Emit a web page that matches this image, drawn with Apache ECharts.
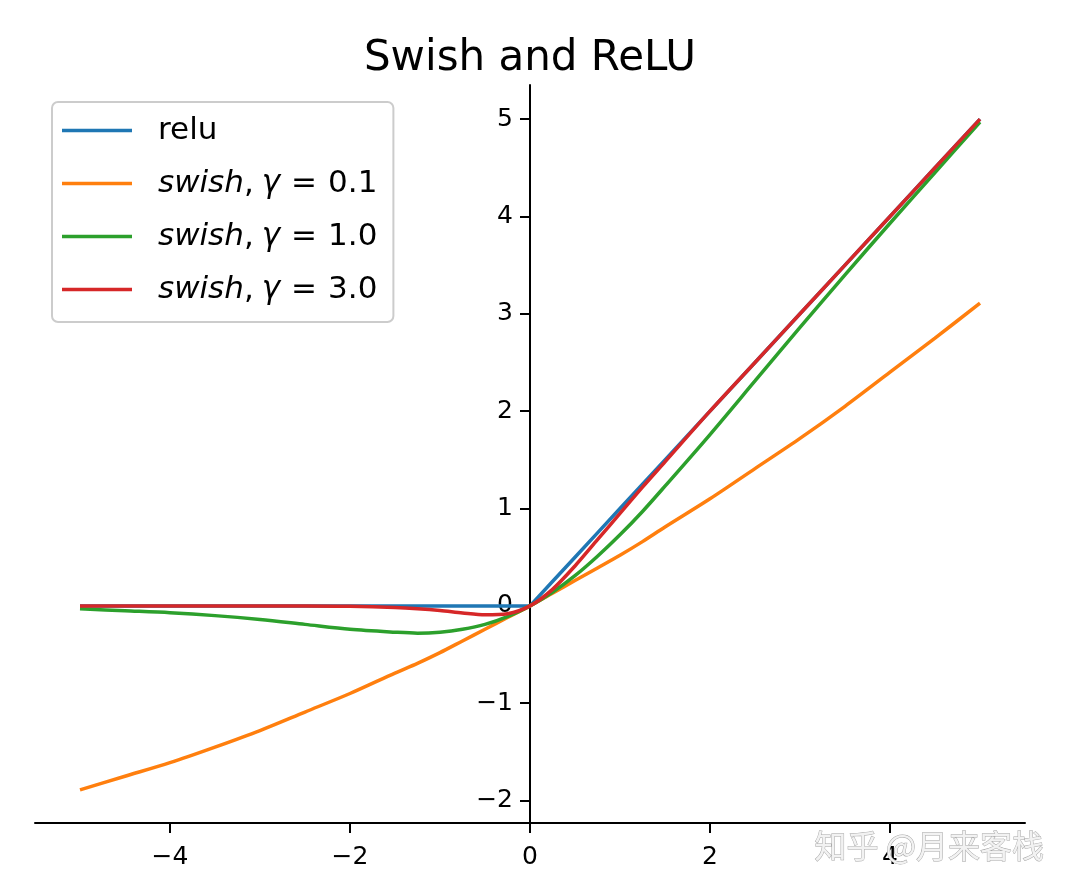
<!DOCTYPE html>
<html>
<head>
<meta charset="utf-8">
<script src="https://cdn.jsdelivr.net/npm/echarts@6/dist/echarts.min.js"></script>
<style>html,body{margin:0;padding:0;background:#fff}#c{width:1072px;height:890px}</style>
</head>
<body>
<div id="c"></div>
<script>
const xs = [-5,-4.5,-4,-3.5,-3,-2.5,-2,-1.5,-1.25,-1,-0.75,-0.5,-0.25,0,0.25,0.5,0.75,1,1.25,1.5,2,2.5,3,3.5,4,4.5,5];
const relu = [0,0,0,0,0,0,0,0,0,0,0,0,0,0,0.25,0.5,0.75,1,1.25,1.5,2,2.5,3,3.5,4,4.5,5];
const swish01 = [-1.89,-1.75,-1.61,-1.45,-1.28,-1.09,-0.90,-0.69,-0.59,-0.48,-0.36,-0.24,-0.12,0,0.13,0.26,0.39,0.52,0.66,0.81,1.10,1.41,1.72,2.05,2.40,2.75,3.11];
const swish10 = [-0.03,-0.05,-0.07,-0.10,-0.14,-0.19,-0.24,-0.27,-0.28,-0.27,-0.24,-0.19,-0.11,0,0.14,0.31,0.51,0.73,0.97,1.23,1.76,2.31,2.86,3.40,3.93,4.45,4.97];
const swish30 = [0,0,0,0,0,0,-0.005,-0.017,-0.029,-0.047,-0.072,-0.091,-0.080,0,0.17,0.41,0.68,0.95,1.22,1.48,2.00,2.50,3.00,3.50,4.00,4.50,5.00];
const seriesNames = ['relu','swish, γ = 0.1','swish, γ = 1.0','swish, γ = 3.0'];
const legendRich = {
  'relu': 'relu',
  'swish, γ = 0.1': '{it|swish},{g|γ}{eq|=}0.1',
  'swish, γ = 1.0': '{it|swish},{g|γ}{eq|=}1.0',
  'swish, γ = 3.0': '{it|swish},{g|γ}{eq|=}3.0'
};
const xTicks = [-4,-2,0,2,4];
const yTicks = [-2,-1,0,1,2,3,4,5];
const titleText = 'Swish and ReLU';
const watermark = '知乎 @月来客栈';
const colors = ['#1f77b4','#ff7f0e','#2ca02c','#d62728'];

function pairs(ys){ return xs.map((x,i)=>[x, ys[i]]); }
const allY = [relu, swish01, swish10, swish30];
const FONT = 'DejaVu Sans';
const minus = v => (v < 0 ? '\u2212' + Math.abs(v) : String(v));

const chart = echarts.init(document.getElementById('c'), null, {renderer:'canvas'});
chart.setOption({
  animation: false,
  backgroundColor: '#fff',
  color: colors,
  title: {
    text: titleText, left: 525, top: 33, textAlign: 'center',
    textStyle: {fontFamily: FONT, fontSize: 42, fontWeight: 'normal', color: '#000'}
  },
  grid: {left: 35, right: 47, top: 85, bottom: 67, containLabel: false, outerBoundsMode: 'none'},
  legend: {
    data: seriesNames, orient: 'vertical', left: 52, top: 102,
    padding: [13, 16, 17, 10], itemGap: 22, itemWidth: 70, itemHeight: 14,
    borderColor: '#cccccc', borderWidth: 2, borderRadius: 6, backgroundColor: 'rgba(255,255,255,0.8)',
    icon: 'path://M0,0 L70,0 L70,3.5 L0,3.5 Z',
    formatter: function(n){ return legendRich[n]; },
    textStyle: {fontFamily: FONT, fontSize: 31, color: '#000', padding: [0,0,0,21], lineHeight: 31,
      rich: {
        it: {fontFamily: FONT, fontStyle: 'italic', fontSize: 31, color: '#000'},
        g: {fontFamily: FONT, fontStyle: 'italic', fontSize: 31, color: '#000', padding: [0,0,0,8]},
        eq: {fontFamily: FONT, fontSize: 31, color: '#000', padding: [0,11,0,11]}
      }}
  },
  xAxis: {
    type: 'value', min: -5.5, max: 5.5,
    axisLine: {onZero: false, lineStyle: {color: '#000', width: 2}},
    axisTick: {show: true, length: 10, lineStyle: {color: '#000', width: 2}, customValues: xTicks},
    axisLabel: {customValues: xTicks, margin: 22, fontFamily: FONT, fontSize: 25, color: '#000', formatter: minus},
    splitLine: {show: false}
  },
  yAxis: {
    type: 'value', min: -2.23, max: 5.35, position: 'left', offset: -495,
    axisLine: {show: true, onZero: false, lineStyle: {color: '#000', width: 2}},
    axisTick: {show: true, length: 10, lineStyle: {color: '#000', width: 2}, customValues: yTicks},
    axisLabel: {customValues: yTicks, margin: 17, fontFamily: FONT, fontSize: 25, color: '#000', formatter: minus},
    splitLine: {show: false}
  },
  graphic: [{
    type: 'text', left: 814, top: 829, z: 100,
    style: {text: watermark, fontFamily: 'Noto Sans CJK SC', fontSize: 32, fill: '#f2f2f2', stroke: '#a8a8a8', lineWidth: 1}
  }],
  series: seriesNames.map((n, i) => ({
    name: n, type: 'line', data: pairs(allY[i]), symbol: 'none',
    smooth: i === 0 ? false : 0.3,
    lineStyle: {width: 3.5, color: colors[i]}, z: 2 + i
  }))
});
</script>
</body>
</html>
